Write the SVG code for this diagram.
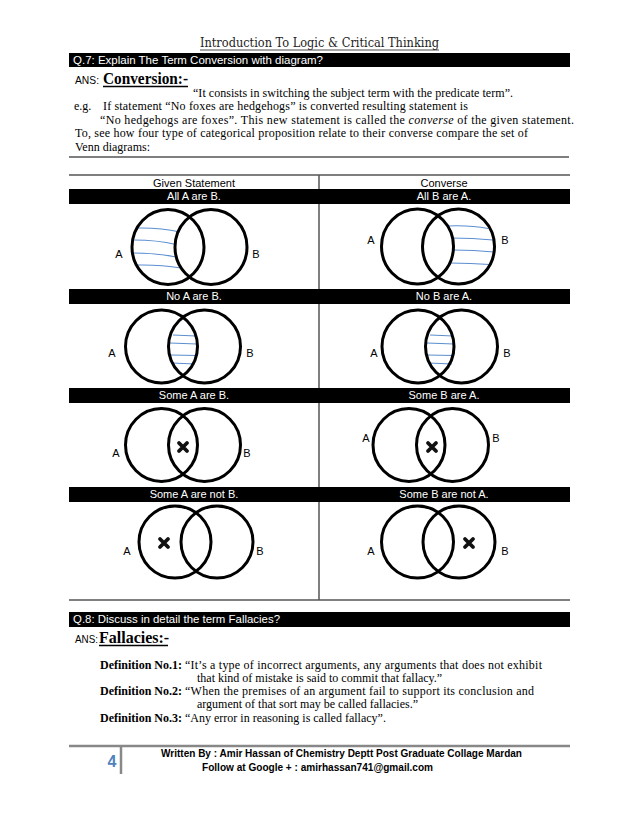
<svg xmlns="http://www.w3.org/2000/svg" xmlns:xlink="http://www.w3.org/1999/xlink" width="638" height="826" viewBox="0 0 638 826">
<style>
.ser{font-family:"Liberation Serif","Times New Roman",serif;font-size:12px;fill:#000}
.sb{font-family:"Liberation Serif","Times New Roman",serif;font-weight:bold;fill:#000}
.cal{font-family:"Liberation Sans",Arial,sans-serif;font-size:10.5px;fill:#000}
.wh{font-family:"Liberation Sans",Arial,sans-serif;font-size:11px;fill:#fff}
.lbl{font-family:"Liberation Sans",Arial,sans-serif;font-size:11px;fill:#000;text-anchor:middle}
.bar{fill:#000}
.c{fill:none;stroke:#000;stroke-width:3}
.h{fill:none;stroke:#5b8fd0;stroke-width:1.1}
.rule{stroke:#555;stroke-width:1.5}
.xm{stroke:#111;stroke-width:3.8;stroke-linecap:round}
</style>
<defs>
<g id="xmark"><path class="xm" d="M-4,-4 L4,4 M4,-4 L-4,4"/></g>
</defs>
<rect width="638" height="826" fill="#fff"/>

<g id="header">
<text x="200" y="47" font-family="'DejaVu Serif',serif" font-size="12" textLength="239" lengthAdjust="spacingAndGlyphs" fill="#222">Introduction To Logic &amp; Critical Thinking</text>
<line x1="200" y1="50" x2="439" y2="50" stroke="#222" stroke-width="0.8"/>
</g>

<g id="q7">
<rect class="bar" x="69" y="53" width="501" height="14"/>
<text class="wh" x="73" y="64" textLength="250" lengthAdjust="spacingAndGlyphs">Q.7: Explain The Term Conversion with diagram?</text>
<text class="cal" x="75" y="84" textLength="24" lengthAdjust="spacingAndGlyphs">ANS:</text>
<text class="sb" x="103" y="84" font-size="16" textLength="85" lengthAdjust="spacingAndGlyphs">Conversion:-</text>
<line x1="103" y1="86.5" x2="188" y2="86.5" stroke="#000" stroke-width="1.3"/>
<text class="ser" x="193" y="97" textLength="320" lengthAdjust="spacing">“It consists in switching the subject term with the predicate term”.</text>
<text class="ser" x="74" y="110">e.g.</text>
<text class="ser" x="103" y="110" textLength="365" lengthAdjust="spacing">If statement “No foxes are hedgehogs” is converted resulting statement is</text>
<text class="ser" x="100" y="124" textLength="474" lengthAdjust="spacing">“No hedgehogs are foxes”. This new statement is called the <tspan font-style="italic">converse</tspan> of the given statement.</text>
<text class="ser" x="75" y="137" textLength="453" lengthAdjust="spacing">To, see how four type of categorical proposition relate to their converse compare the set of</text>
<text class="ser" x="75" y="151">Venn diagrams:</text>
<line class="rule" x1="69" y1="157" x2="569" y2="157"/>
</g>

<g id="table">
<line class="rule" x1="69" y1="175" x2="570" y2="175"/>
<line class="rule" x1="319" y1="175" x2="319" y2="600"/>
<line class="rule" x1="69" y1="600" x2="570" y2="600"/>
<text class="lbl" x="194" y="187">Given Statement</text>
<text class="lbl" x="444" y="187">Converse</text>
<rect class="bar" x="69" y="189" width="501" height="15"/>
<text class="wh" x="194" y="200" text-anchor="middle">All A are B.</text>
<text class="wh" x="444" y="200" text-anchor="middle">All B are A.</text>
<rect class="bar" x="69" y="289" width="501" height="15"/>
<text class="wh" x="194" y="300" text-anchor="middle">No A are B.</text>
<text class="wh" x="444" y="300" text-anchor="middle">No B are A.</text>
<rect class="bar" x="69" y="388" width="501" height="15"/>
<text class="wh" x="194" y="399" text-anchor="middle">Some A are B.</text>
<text class="wh" x="444" y="399" text-anchor="middle">Some B are A.</text>
<rect class="bar" x="69" y="487" width="501" height="15"/>
<text class="wh" x="194" y="498" text-anchor="middle">Some A are not B.</text>
<text class="wh" x="444" y="498" text-anchor="middle">Some B are not A.</text>
</g>

<g id="venn-all-a-b">
<path class="h" d="M137,228 Q160,227.5 180,232 M134,240 Q157,240 176,244.5 M133,253 Q156,253 176,257 M137,265 Q160,264.5 181,268"/>
<ellipse class="c" cx="168" cy="247" rx="36" ry="37.5"/>
<ellipse class="c" cx="211" cy="247" rx="36" ry="37.5"/>
<text class="lbl" x="119" y="258">A</text>
<text class="lbl" x="256" y="258">B</text>
</g>
<g id="venn-all-b-a">
<path class="h" d="M447,226 Q470,225 488,228.5 M451,238 Q473,238 493,240 M453,250 Q474,250 494,252 M450,263 Q471,263 490,264.5"/>
<ellipse class="c" cx="417.5" cy="246.5" rx="36" ry="37.5"/>
<ellipse class="c" cx="458.5" cy="246.5" rx="36" ry="37.5"/>
<text class="lbl" x="371" y="244">A</text>
<text class="lbl" x="505" y="244">B</text>
</g>

<g id="venn-no-a-b">
<path class="h" d="M173,335 L196,336 M170,343 L197,344 M170,355 L197,355.5 M172,363 L195,364"/>
<ellipse class="c" cx="161.5" cy="346.5" rx="36" ry="36.5"/>
<ellipse class="c" cx="204.5" cy="346.5" rx="36" ry="36.5"/>
<text class="lbl" x="112" y="357">A</text>
<text class="lbl" x="250" y="357">B</text>
</g>
<g id="venn-no-b-a">
<path class="h" d="M430,335 L453,336 M427,343 L454,344 M427,355 L454,355.5 M429,363 L452,364"/>
<ellipse class="c" cx="418" cy="346.5" rx="36" ry="36.5"/>
<ellipse class="c" cx="461.5" cy="346.5" rx="36" ry="36.5"/>
<text class="lbl" x="374" y="357">A</text>
<text class="lbl" x="507" y="357">B</text>
</g>

<g id="venn-some-a-b">
<ellipse class="c" cx="161.5" cy="445" rx="36" ry="36.5"/>
<ellipse class="c" cx="204.5" cy="445" rx="36" ry="36.5"/>
<use xlink:href="#xmark" x="183" y="447"/>
<text class="lbl" x="116" y="457">A</text>
<text class="lbl" x="247" y="457">B</text>
</g>
<g id="venn-some-b-a">
<ellipse class="c" cx="409" cy="445" rx="36" ry="36.5"/>
<ellipse class="c" cx="452.5" cy="445" rx="36" ry="36.5"/>
<use xlink:href="#xmark" x="432" y="447"/>
<text class="lbl" x="366" y="442">A</text>
<text class="lbl" x="496" y="442">B</text>
</g>

<g id="venn-some-a-not-b">
<ellipse class="c" cx="175" cy="542" rx="36" ry="36"/>
<ellipse class="c" cx="217" cy="542" rx="36" ry="36"/>
<use xlink:href="#xmark" x="164" y="543"/>
<text class="lbl" x="127" y="555">A</text>
<text class="lbl" x="260" y="555">B</text>
</g>
<g id="venn-some-b-not-a">
<ellipse class="c" cx="417.5" cy="542" rx="36" ry="36"/>
<ellipse class="c" cx="459" cy="542" rx="36" ry="36"/>
<use xlink:href="#xmark" x="469" y="543"/>
<text class="lbl" x="371" y="555">A</text>
<text class="lbl" x="505" y="555">B</text>
</g>

<g id="connectors"></g>

<g id="q8">
<rect class="bar" x="69" y="612" width="501" height="15"/>
<text class="wh" x="73" y="623" textLength="207" lengthAdjust="spacingAndGlyphs">Q.8: Discuss in detail the term Fallacies?</text>
<text class="cal" x="75" y="643" textLength="23" lengthAdjust="spacingAndGlyphs">ANS:</text>
<text class="sb" x="99" y="643" font-size="16">Fallacies:-</text>
<line x1="99" y1="645.5" x2="168" y2="645.5" stroke="#000" stroke-width="1.3"/>
<text class="sb" x="100" y="669" font-size="12">Definition No.1:</text>
<text class="ser" x="185" y="669" textLength="357" lengthAdjust="spacing">“It’s a type of incorrect arguments, any arguments that does not exhibit</text>
<text class="ser" x="197" y="682">that kind of mistake is said to commit that fallacy.”</text>
<text class="sb" x="100" y="695" font-size="12">Definition No.2:</text>
<text class="ser" x="185" y="695" textLength="349" lengthAdjust="spacing">“When the premises of an argument fail to support its conclusion and</text>
<text class="ser" x="197" y="708">argument of that sort may be called fallacies.”</text>
<text class="sb" x="100" y="722" font-size="12">Definition No.3:</text>
<text class="ser" x="185" y="722">“Any error in reasoning is called fallacy”.</text>
</g>

<g id="footer">
<line x1="69" y1="746" x2="570" y2="746" stroke="#888" stroke-width="2.5"/>
<line x1="121" y1="746" x2="121" y2="774" stroke="#888" stroke-width="2.5"/>
<text x="112" y="767" font-family="'Liberation Sans',Arial,sans-serif" font-weight="bold" font-size="16" fill="#4f81bd" text-anchor="middle">4</text>
<text x="161" y="757" font-family="'Liberation Sans',Arial,sans-serif" font-weight="bold" font-size="11" fill="#000" textLength="361" lengthAdjust="spacingAndGlyphs">Written By : Amir Hassan of Chemistry Deptt Post Graduate Collage Mardan</text>
<text x="202" y="771" font-family="'Liberation Sans',Arial,sans-serif" font-weight="bold" font-size="11" fill="#000" textLength="231" lengthAdjust="spacingAndGlyphs">Follow at Google + : amirhassan741@gmail.com</text>
</g>
</svg>
